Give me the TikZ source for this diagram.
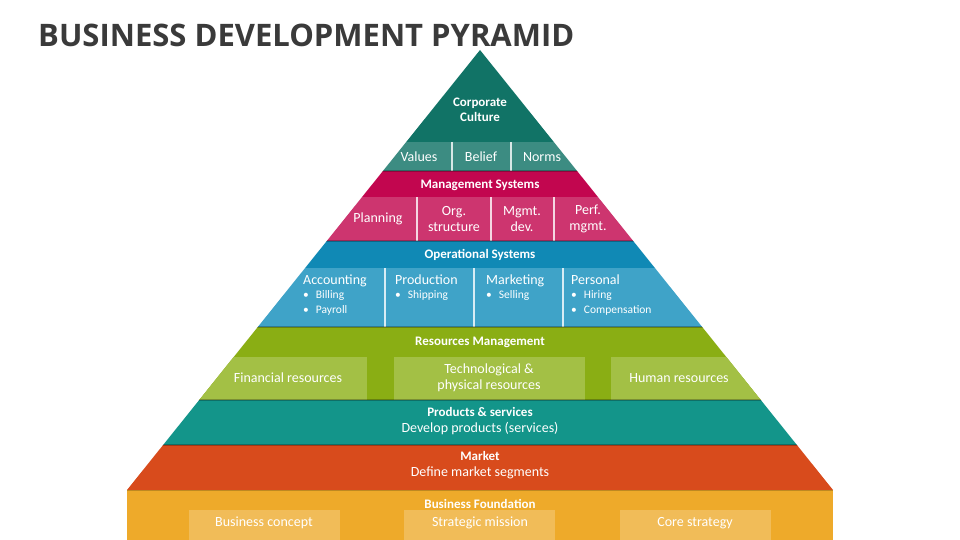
\documentclass[tikz,border=0pt]{standalone}
\usepackage{fontspec}
\setmainfont{Carlito}
\newfontfamily\titlefont{Open Sans}
\definecolor{cc}{HTML}{117366}
\definecolor{ccl}{HTML}{3C8C82}
\definecolor{ms}{HTML}{C2064F}
\definecolor{msl}{HTML}{CD356F}
\definecolor{os}{HTML}{1089B5}
\definecolor{osl}{HTML}{3FA3C8}
\definecolor{rm}{HTML}{8AAE14}
\definecolor{rml}{HTML}{A3C045}
\definecolor{ps}{HTML}{13958A}
\definecolor{mk}{HTML}{D84B1C}
\definecolor{bf}{HTML}{EEAA2A}
\definecolor{bfl}{HTML}{F1BC58}
\definecolor{ttl}{HTML}{3A3A3A}
\tikzset{
 hd/.style={text=white,font=\bfseries\fontsize{13}{15}\selectfont,align=center},
 tx/.style={text=white,font=\fontsize{14}{16.5}\selectfont,align=center},
 lt/.style={text=white,font=\fontsize{14}{15}\selectfont,align=left,anchor=north west,inner sep=0pt},
 sep/.style={draw=white,opacity=0.8,line width=1.5pt},
}
\newcommand\bitem[1]{{\fontsize{11.5}{14}\selectfont\textbullet\hspace{7pt}#1}}
\begin{document}
\begin{tikzpicture}[x=1pt,y=-1pt]
\fill[white] (0,0) rectangle (960,540);
\useasboundingbox (0,0) rectangle (960,540);
\node[anchor=west,text=ttl,font=\titlefont\bfseries\fontsize{31}{34}\selectfont,inner sep=0pt] (title) at (38,35) {BUSINESS DEVELOPMENT PYRAMID};
\begin{scope}
\clip (480,50) -- (833,490) -- (127,490) -- cycle;
\fill[cc] (0,40) rectangle (960,142);
\fill[ccl] (0,142) rectangle (960,171);
\fill[ms] (0,171) rectangle (960,197);
\fill[msl] (0,197) rectangle (960,241);
\fill[os] (0,241) rectangle (960,268);
\fill[osl] (0,268) rectangle (960,327);
\fill[rm] (0,327) rectangle (960,400);
\fill[rml] (0,357) rectangle (367,400);
\fill[rml] (394,357) rectangle (585,400);
\fill[rml] (611,357) rectangle (763,400);
\fill[ps] (0,400) rectangle (960,445);
\fill[mk] (0,445) rectangle (960,490);
\draw[sep] (452,142) -- (452,171); \draw[sep] (511,142) -- (511,171);
\draw[sep] (417,197) -- (417,241); \draw[sep] (491,197) -- (491,241); \draw[sep] (554,197) -- (554,241);
\draw[sep] (385,268) -- (385,327); \draw[sep] (474,268) -- (474,327); \draw[sep] (563,268) -- (563,327);
\foreach \y in {171,241,327,400,445}{\draw[black,opacity=0.25,line width=1.2pt] (0,\y) -- (960,\y);}
\end{scope}
\fill[bf] (127,490) rectangle (833,540);
\draw[black,opacity=0.2,line width=1.2pt] (127,490.6) -- (833,490.6);
\fill[bfl] (189,510) rectangle (340,540);
\fill[bfl] (404,510) rectangle (555,540);
\fill[bfl] (620,510) rectangle (771,540);
\node[hd] (corp) at (480,110) {Corporate\\Culture};
\node[tx] (val) at (419,157) {Values};
\node[tx] (bel) at (481,157) {Belief};
\node[tx] (nor) at (542,157) {Norms};
\node[hd] (mgs) at (480,185) {Management Systems};
\node[tx] (pla) at (378,219) {Planning};
\node[tx] (org) at (454,219) {Org.\\structure};
\node[tx] (mgd) at (522,219) {Mgmt.\\dev.};
\node[tx] (prf) at (588,219) {Perf.\\mgmt.};
\node[hd] (ops) at (480,255) {Operational Systems};
\node[lt] (acc) at (303,275) {Accounting\\[-1pt]\bitem{Billing}\\\bitem{Payroll}};
\node[lt] (pro) at (395,275) {Production\\[-1pt]\bitem{Shipping}};
\node[lt] (mar) at (486,275) {Marketing\\[-1pt]\bitem{Selling}};
\node[lt] (per) at (571,275) {Personal\\[-1pt]\bitem{Hiring}\\\bitem{Compensation}};
\node[hd] (rms) at (480,342) {Resources Management};
\node[tx] (fin) at (288,378) {Financial resources};
\node[tx] (tec) at (489,378) {Technological \&\\physical resources};
\node[tx] (hum) at (679,378) {Human resources};
\node[tx] (pse) at (480,421) {\bfseries\fontsize{13}{16.5}\selectfont Products \& services\\Develop products (services)};
\node[tx] (mkt) at (480,465) {\bfseries\fontsize{13}{16.5}\selectfont Market\\Define market segments};
\node[hd] (bfo) at (480,504) {Business Foundation};
\node[tx] (bco) at (264,523) {Business concept};
\node[tx] (smi) at (480,523) {Strategic mission};
\node[tx] (cst) at (695,523) {Core strategy};
\end{tikzpicture}
\end{document}
